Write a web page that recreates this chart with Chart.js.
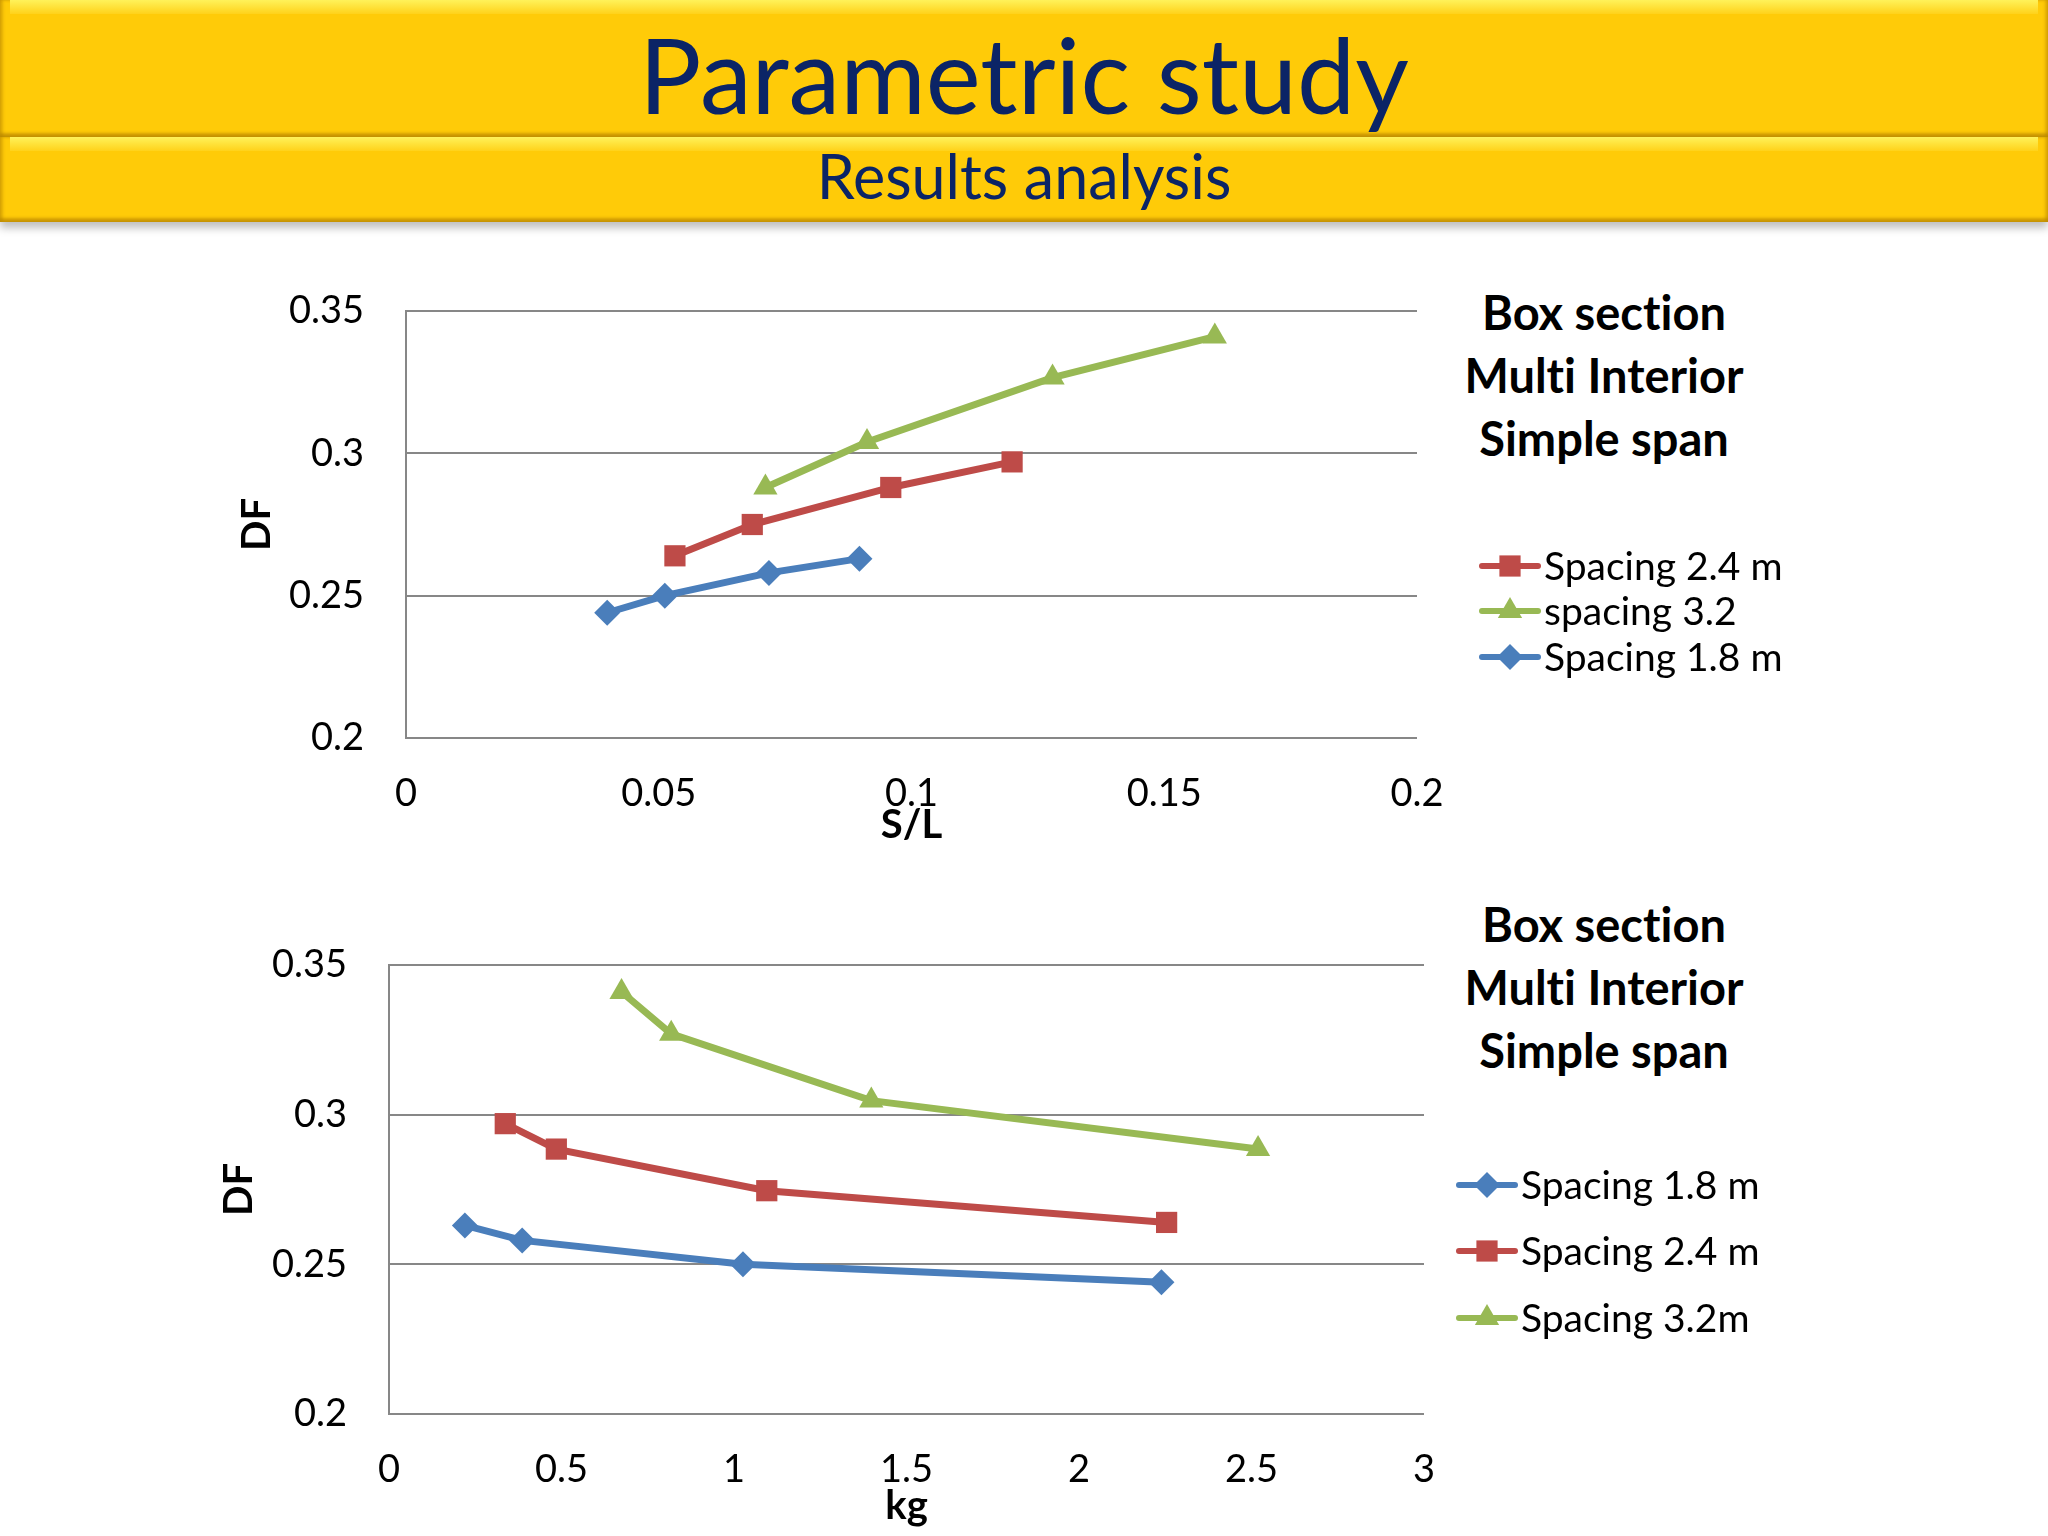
<!DOCTYPE html>
<html>
<head>
<meta charset="utf-8">
<script src="https://cdn.jsdelivr.net/npm/chart.js@4/dist/chart.umd.min.js"></script>
<style>
  html, body { margin: 0; padding: 0; background: #fff; }
  body { width: 2048px; height: 1536px; position: relative; overflow: hidden; font-family: Lato, "Open Sans", sans-serif;
         font-variant-ligatures: none; }
  .banda { position: absolute; left: 0; width: 2048px; background: #ffcb08;
           box-shadow: inset 0 -4px 3px rgba(170,120,0,0.55), inset 3px 0 3px rgba(170,120,0,0.35), inset -3px 0 3px rgba(170,120,0,0.35); }
  .banda::before { content: ''; position: absolute; left: 10px; right: 10px; top: 0; height: 14px;
           background: linear-gradient(#fff25a, #ffd21a); }
  #banda1 { top: 0; height: 137px; }
  #banda2 { top: 137px; height: 85px; box-shadow: inset 0 -4px 3px rgba(170,120,0,0.55), inset 3px 0 3px rgba(170,120,0,0.35), inset -3px 0 3px rgba(170,120,0,0.35), 0 6px 8px rgba(0,0,0,0.25); }
  .titulo { position: absolute; left: 0; width: 2048px; text-align: center; color: #0b2466; }
  #titulo { top: 12px; font-size: 104px; line-height: 124px; }
  #subtitulo { top: 140px; font-size: 61px; line-height: 72px; }
  .caja { position: absolute; left: 1404px; width: 400px; text-align: center; font-weight: bold;
          font-size: 47px; line-height: 63px; color: #000; }
  #caja1 { top: 281px; }
  #caja2 { top: 893px; }
  .lienzo { position: absolute; left: 0; width: 2048px; }
  #c1 { top: 240px; height: 640px; }
  #c2 { top: 880px; height: 656px; }
</style>
</head>
<body>
<div class="banda" id="banda1"></div>
<div class="banda" id="banda2"></div>
<div class="titulo" id="titulo">Parametric study</div>
<div class="titulo" id="subtitulo">Results analysis</div>
<div class="caja" id="caja1">Box section<br>Multi Interior<br>Simple span</div>
<div class="caja" id="caja2">Box section<br>Multi Interior<br>Simple span</div>
<div class="lienzo" id="c1"><canvas id="grafica-sl"></canvas></div>
<div class="lienzo" id="c2"><canvas id="grafica-kg"></canvas></div>
<script>
// Grafica 1: DF vs S/L
const slEtiquetas = ['Spacing 2.4 m', 'spacing 3.2', 'Spacing 1.8 m'];
const slX24 = [0.0532, 0.0685, 0.0959, 0.1199];
const slY24 = [0.264, 0.275, 0.288, 0.297];
const slX32 = [0.0711, 0.0912, 0.1279, 0.160];
const slY32 = [0.288, 0.304, 0.3266, 0.341];
const slX18 = [0.0398, 0.0512, 0.0718, 0.0897];
const slY18 = [0.244, 0.250, 0.258, 0.263];
const slTicksX = [0, 0.05, 0.1, 0.15, 0.2];

// Grafica 2: DF vs kg
const kgEtiquetas = ['Spacing 1.8 m', 'Spacing 2.4 m', 'Spacing 3.2m'];
const kgX18 = [0.22, 0.386, 1.026, 2.239];
const kgY18 = [0.263, 0.258, 0.250, 0.244];
const kgX24 = [0.337, 0.485, 1.095, 2.254];
const kgY24 = [0.297, 0.2885, 0.2746, 0.264];
const kgX32 = [0.674, 0.818, 1.398, 2.519];
const kgY32 = [0.341, 0.327, 0.3047, 0.2885];
const kgTicksX = [0, 0.5, 1, 1.5, 2, 2.5, 3];

const dfTicks = [0.2, 0.25, 0.3, 0.35];

const AZUL = '#4a7ebb', ROJO = '#be4b48', VERDE = '#98b954';
const GRIS = '#878787';
const FUENTE = 'Lato, "Open Sans", sans-serif';

function puntos(xs, ys) {
    return xs.map((x, i) => ({ x: x, y: ys[i] }));
}

function serie(etiqueta, xs, ys, color, estilo, radio) {
    return {
        label: etiqueta,
        data: puntos(xs, ys),
        borderColor: color,
        backgroundColor: color,
        borderWidth: 7,
        pointStyle: estilo,
        pointRadius: radio,
        pointBorderWidth: 0,
        tension: 0
    };
}

// leyenda estilo Excel: linea con marcador y texto
const leyendaExcel = {
    id: 'leyendaExcel',
    afterDraw(chart, args, opts) {
        const ctx = chart.ctx;
        ctx.save();
        chart.data.datasets.forEach((ds, i) => {
            const y = opts.y[i];
            ctx.strokeStyle = ds.borderColor;
            ctx.lineWidth = 6;
            ctx.lineCap = 'round';
            ctx.beginPath();
            ctx.moveTo(opts.x, y);
            ctx.lineTo(opts.x + 56, y);
            ctx.stroke();
            ctx.fillStyle = ds.backgroundColor;
            Chart.helpers.drawPoint(ctx, { pointStyle: ds.pointStyle, radius: ds.pointRadius, borderWidth: 0, rotation: 0 }, opts.x + 28, y);
            ctx.fillStyle = '#000';
            ctx.font = '39px ' + FUENTE;
            ctx.textBaseline = 'middle';
            ctx.fillText(ds.label, opts.x + 62, y + 1);
        });
        ctx.restore();
    }
};

function opciones(xMax, ticksX, tituloX, relleno, anchoY, altoX, leyenda) {
    return {
        responsive: true,
        maintainAspectRatio: false,
        animation: false,
        layout: { padding: relleno },
        plugins: {
            legend: { display: false },
            tooltip: { enabled: false },
            leyendaExcel: leyenda
        },
        scales: {
            x: {
                type: 'linear',
                min: 0,
                max: xMax,
                afterBuildTicks: (eje) => { eje.ticks = ticksX.map(v => ({ value: v })); },
                ticks: { color: '#000', padding: 33, font: { family: FUENTE, size: 38 }, callback: (v) => String(v) },
                grid: { display: false, drawTicks: false },
                border: { display: false },
                title: { display: true, text: tituloX, color: '#000', padding: 0, font: { family: FUENTE, size: 40, weight: 'bold' } },
                afterFit: (eje) => { eje.height = altoX; }
            },
            y: {
                min: 0.2,
                max: 0.35,
                afterBuildTicks: (eje) => { eje.ticks = dfTicks.map(v => ({ value: v })); },
                ticks: { color: '#000', padding: 42, font: { family: FUENTE, size: 38 }, callback: (v) => String(v) },
                grid: { color: GRIS, lineWidth: 2, drawTicks: false },
                border: { display: true, color: GRIS, width: 2 },
                title: { display: true, text: 'DF', color: '#000', padding: 0, font: { family: FUENTE, size: 40, weight: 'bold' } },
                afterFit: (eje) => { eje.width = anchoY; }
            }
        }
    };
}

new Chart(document.getElementById('grafica-sl'), {
    type: 'line',
    data: {
        datasets: [
            serie(slEtiquetas[0], slX24, slY24, ROJO, 'rect', 15),
            serie(slEtiquetas[1], slX32, slY32, VERDE, 'triangle', 14),
            serie(slEtiquetas[2], slX18, slY18, AZUL, 'rectRot', 13)
        ]
    },
    options: opciones(0.2, slTicksX, 'S/L',
        { left: 233, right: 631, top: 71, bottom: 31 }, 173, 111,
        { x: 1482, y: [326, 371, 417] }),
    plugins: [leyendaExcel]
});

new Chart(document.getElementById('grafica-kg'), {
    type: 'line',
    data: {
        datasets: [
            serie(kgEtiquetas[0], kgX18, kgY18, AZUL, 'rectRot', 13),
            serie(kgEtiquetas[1], kgX24, kgY24, ROJO, 'rect', 15),
            serie(kgEtiquetas[2], kgX32, kgY32, VERDE, 'triangle', 14)
        ]
    },
    options: opciones(3, kgTicksX, 'kg',
        { left: 215, right: 624, top: 85, bottom: 6 }, 174, 116,
        { x: 1459, y: [305, 371, 438] }),
    plugins: [leyendaExcel]
});
</script>
</body>
</html>
